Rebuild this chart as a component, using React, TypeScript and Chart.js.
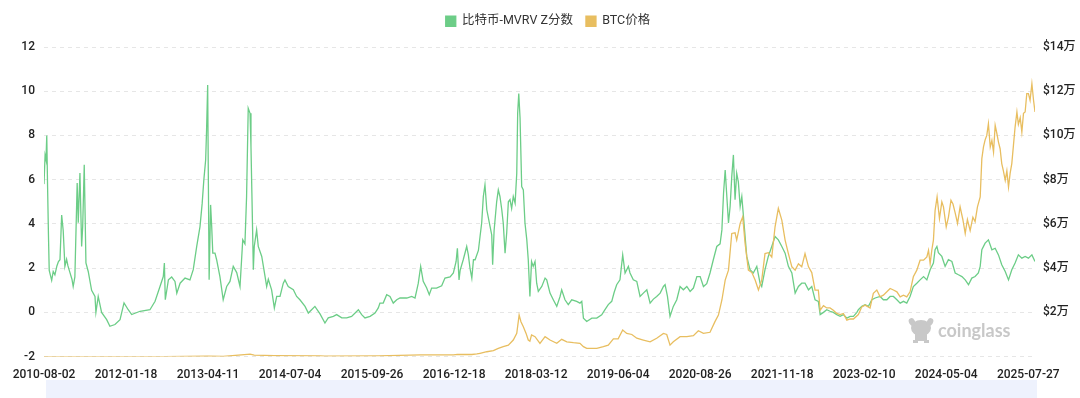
import { useEffect, useRef } from 'react';
import { Chart, registerables } from 'chart.js';

Chart.register(...registerables);

const tickDates = ['2010-08-02', '2012-01-18', '2013-04-11', '2014-07-04', '2015-09-26', '2016-12-18', '2018-03-12', '2019-06-04', '2020-08-26', '2021-11-18', '2023-02-10', '2024-05-04', '2025-07-27'];

const mvrvDates = [
  '2010-08-02','2010-08-09','2010-08-15','2010-08-20','2010-08-25','2010-08-31','2010-09-05','2010-09-21','2010-10-01','2010-10-12','2010-10-25','2010-11-04','2010-11-14','2010-11-25','2010-12-05','2010-12-16','2010-12-27',
  '2011-01-05','2011-01-18','2011-01-31','2011-02-08','2011-02-19','2011-03-06','2011-03-13','2011-03-24','2011-04-04','2011-04-11','2011-04-21','2011-05-02','2011-05-17','2011-06-08','2011-06-30','2011-07-06','2011-07-21','2011-08-12','2011-09-14','2011-10-05','2011-11-07','2011-12-10',
  '2012-01-05','2012-01-30','2012-02-18','2012-04-04','2012-05-28','2012-06-25','2012-07-22','2012-08-09','2012-08-15','2012-08-20','2012-09-06','2012-09-24','2012-10-12','2012-10-22','2012-11-09','2012-12-06',
  '2013-01-02','2013-01-20','2013-02-08','2013-02-26','2013-03-10','2013-03-19','2013-03-29','2013-04-03','2013-04-09','2013-04-12','2013-04-17','2013-04-25','2013-05-01','2013-05-07','2013-05-19','2013-05-28','2013-06-15','2013-07-03','2013-07-22','2013-08-09','2013-08-27','2013-09-15','2013-10-03','2013-10-18','2013-10-30','2013-11-08','2013-11-17','2013-11-27','2013-12-02','2013-12-07','2013-12-11','2013-12-15','2013-12-20',
  '2014-01-02','2014-01-11','2014-01-30','2014-02-17','2014-02-26','2014-03-07','2014-03-25','2014-04-09','2014-04-22','2014-05-10','2014-05-28','2014-06-06','2014-06-24','2014-07-22','2014-08-09','2014-08-27','2014-09-24','2014-10-12','2014-10-30','2014-11-17','2014-12-15',
  '2015-01-11','2015-01-29','2015-02-26','2015-03-16','2015-04-13','2015-05-10','2015-06-06','2015-07-13','2015-07-31','2015-08-18','2015-09-15','2015-10-12','2015-10-30','2015-11-08','2015-11-26','2015-12-15',
  '2016-01-02','2016-01-20','2016-02-08','2016-02-26','2016-04-03','2016-04-30','2016-05-18','2016-05-28','2016-06-05','2016-06-18','2016-07-02','2016-07-21','2016-08-04','2016-08-17','2016-09-13','2016-10-11','2016-10-29','2016-11-26','2016-12-14','2016-12-29',
  '2017-01-05','2017-01-14','2017-01-20','2017-02-06','2017-02-25','2017-03-06','2017-03-15','2017-03-25','2017-04-03','2017-04-12','2017-04-30','2017-05-09','2017-05-18','2017-05-27','2017-06-05','2017-06-15','2017-07-03','2017-07-12','2017-07-17','2017-07-25','2017-08-08','2017-08-17','2017-08-26','2017-09-05','2017-09-13','2017-09-23','2017-10-02','2017-10-11','2017-10-20','2017-10-29','2017-11-07','2017-11-17','2017-11-26','2017-12-01','2017-12-07','2017-12-14','2017-12-23',
  '2018-01-01','2018-01-10','2018-01-20','2018-01-28','2018-02-06','2018-02-15','2018-02-24','2018-03-06','2018-03-15','2018-03-24','2018-04-12','2018-04-30','2018-05-09','2018-05-18','2018-05-27','2018-06-14','2018-07-03','2018-07-21','2018-07-30','2018-08-17','2018-09-04','2018-09-23','2018-10-20','2018-11-07','2018-11-17','2018-11-26','2018-12-14',
  '2019-01-11','2019-02-07','2019-03-06','2019-03-24','2019-04-11','2019-04-30','2019-05-13','2019-05-27','2019-06-14','2019-06-29','2019-07-12','2019-07-30','2019-08-08','2019-08-26','2019-09-14','2019-10-02','2019-10-20','2019-11-08','2019-11-26','2019-12-14',
  '2020-01-01','2020-01-20','2020-02-07','2020-02-16','2020-02-29','2020-03-14','2020-04-01','2020-04-20','2020-05-08','2020-05-26','2020-06-14','2020-07-02','2020-07-20','2020-08-08','2020-08-26','2020-09-13','2020-10-01','2020-10-19','2020-11-06','2020-11-25','2020-12-13','2020-12-23',
  '2021-01-01','2021-01-10','2021-01-19','2021-01-28','2021-02-06','2021-02-15','2021-02-24','2021-03-05','2021-03-14','2021-03-23','2021-04-02','2021-04-11','2021-04-20','2021-04-29','2021-05-08','2021-05-26','2021-06-13','2021-07-02','2021-07-20','2021-07-29','2021-08-16','2021-09-03','2021-09-22','2021-10-10','2021-10-28','2021-11-16','2021-12-04','2021-12-22',
  '2022-01-10','2022-01-28','2022-02-15','2022-03-05','2022-03-23','2022-04-11','2022-04-29','2022-05-17','2022-06-04','2022-06-14','2022-07-02','2022-07-20','2022-08-07','2022-08-25','2022-09-13','2022-10-01','2022-10-19','2022-11-07','2022-11-25','2022-12-13',
  '2023-01-01','2023-01-09','2023-01-28','2023-02-15','2023-03-05','2023-03-24','2023-04-11','2023-05-08','2023-05-26','2023-06-14','2023-07-02','2023-07-20','2023-08-08','2023-08-26','2023-09-13','2023-10-01','2023-10-19','2023-11-06','2023-11-25','2023-12-13',
  '2024-01-01','2024-01-19','2024-02-06','2024-02-24','2024-03-04','2024-03-14','2024-03-22','2024-04-10','2024-04-28','2024-05-16','2024-06-04','2024-06-22','2024-07-10','2024-07-29','2024-08-16','2024-09-03','2024-09-21','2024-10-09','2024-10-27','2024-11-06','2024-11-15','2024-12-03','2024-12-21',
  '2025-01-09','2025-01-27','2025-02-14','2025-03-04','2025-03-23','2025-04-10','2025-04-28','2025-05-16','2025-06-03','2025-06-22','2025-07-10','2025-07-28','2025-08-16','2025-09-02',
];

const mvrvValues = [
  5.8,7.1,6.9,8.0,5.8,3.5,1.9,1.45,1.85,1.7,2.1,2.3,2.38,4.4,3.7,2.08,2.4,
  2.1,1.8,1.5,1.17,1.6,5.85,4.05,6.3,2.98,3.9,6.67,2.24,1.85,1.0,0.72,0.0,0.72,0.0,-0.33,-0.63,-0.55,-0.33,
  0.43,0.12,-0.1,0.05,0.12,0.5,1.17,1.62,2.23,0.57,1.47,1.6,1.4,0.87,1.32,1.55,
  1.47,1.93,2.98,3.88,4.94,5.99,6.9,8.25,10.28,6.75,1.48,4.86,3.88,2.68,2.68,2.38,1.62,0.57,1.17,1.4,2.08,1.8,1.17,3.28,3.1,5.24,9.23,9.0,7.5,5.4,3.7,1.93,2.98,
  3.73,2.98,2.53,1.63,1.17,1.5,1.02,0.2,0.72,0.72,1.32,1.47,1.17,1.02,0.72,0.57,0.27,-0.03,0.12,0.27,-0.07,
  -0.48,-0.25,-0.18,-0.1,-0.25,-0.25,-0.18,0.12,-0.1,-0.25,-0.18,-0.03,0.2,0.42,0.42,0.8,
  0.72,0.42,0.57,0.65,0.65,0.72,0.65,1.02,1.32,2.08,1.4,1.1,0.8,1.1,1.1,1.2,1.55,1.6,1.78,2.3,
  2.9,1.47,1.9,2.38,2.98,2.6,2.0,1.55,2.38,2.38,2.8,3.43,4.04,5.24,5.77,4.64,3.88,3.5,2.15,3.7,5.0,5.54,5.24,4.64,4.04,2.68,3.6,5.0,5.1,4.7,5.24,4.94,6.29,9.0,9.9,8.8,5.69,
  5.54,4.04,3.28,2.38,0.72,2.3,2.08,2.3,1.32,0.95,1.17,1.55,1.47,1.17,0.87,0.57,0.27,0.72,1.02,0.57,0.35,0.57,0.5,0.42,0.5,-0.26,-0.41,
  -0.26,-0.26,-0.11,0.12,0.35,0.5,0.9,1.25,1.47,2.6,1.78,2.08,1.78,1.47,1.4,0.72,0.87,1.02,0.42,0.6,
  0.72,0.87,1.17,1.25,0.72,-0.18,0.27,0.57,1.17,1.02,1.17,0.95,1.1,1.62,1.62,1.17,1.3,1.78,2.38,2.98,3.1,3.73,
  5.39,6.44,5.24,4.04,4.79,6.14,7.12,5.09,6.29,5.9,4.79,5.24,4.34,3.43,2.53,1.93,1.78,2.08,1.32,1.17,1.93,2.53,2.98,3.43,3.28,2.98,2.68,2.08,
  1.78,0.87,1.17,1.32,1.32,1.02,1.17,0.57,0.5,-0.1,0.0,0.12,0.05,0.0,-0.1,-0.18,-0.1,-0.26,-0.18,-0.18,
  0.0,0.12,0.27,0.35,0.27,0.57,0.65,0.72,0.57,0.57,0.72,0.72,0.57,0.42,0.5,0.42,0.72,1.17,1.32,1.47,
  1.62,1.47,1.93,2.23,2.83,2.98,2.7,2.53,2.08,2.38,2.3,1.78,1.7,1.62,1.47,1.25,1.55,1.62,1.78,2.08,2.83,3.13,3.28,
  2.83,2.9,2.6,2.15,1.85,1.47,1.93,2.23,2.6,2.45,2.53,2.45,2.6,2.3,
];

const priceDates = [
  '2010-08-02','2011-04-21','2011-10-05','2012-08-15','2013-04-09','2013-07-03','2013-11-27','2013-12-20','2014-04-09','2014-12-15','2015-01-11','2015-10-30','2016-06-18','2016-12-14',
  '2017-01-05','2017-03-25','2017-04-22','2017-05-09','2017-06-15','2017-07-21','2017-08-17','2017-09-13','2017-10-11','2017-11-07','2017-11-26','2017-12-09','2017-12-19',
  '2018-01-01','2018-01-16','2018-01-28','2018-02-06','2018-02-15','2018-03-06','2018-04-02','2018-04-30','2018-05-27','2018-07-03','2018-07-30','2018-08-27','2018-10-02','2018-11-07','2018-11-26','2018-12-14',
  '2019-02-07','2019-03-15','2019-04-11','2019-05-09','2019-06-04','2019-06-29','2019-07-21','2019-08-18','2019-09-14','2019-10-20','2019-11-26',
  '2020-01-01','2020-02-07','2020-02-25','2020-03-14','2020-04-01','2020-05-08','2020-06-14','2020-07-20','2020-08-16','2020-09-13','2020-10-19','2020-11-15','2020-12-04','2020-12-23',
  '2021-01-10','2021-01-28','2021-02-15','2021-03-05','2021-03-14','2021-04-02','2021-04-16','2021-04-29','2021-05-17','2021-06-05','2021-06-23','2021-07-11','2021-07-29','2021-08-16','2021-09-03','2021-09-22','2021-10-10','2021-10-28','2021-11-16','2021-12-04','2021-12-22',
  '2022-01-10','2022-01-28','2022-02-15','2022-03-05','2022-03-23','2022-04-11','2022-04-29','2022-05-17','2022-06-04','2022-06-14','2022-07-02','2022-07-20','2022-08-07','2022-08-25','2022-09-13','2022-10-01','2022-10-19','2022-11-07','2022-11-25','2022-12-13',
  '2023-01-09','2023-01-28','2023-02-15','2023-03-14','2023-04-01','2023-04-20','2023-05-08','2023-05-26','2023-06-14','2023-07-02','2023-07-20','2023-08-08','2023-08-26','2023-09-13','2023-10-01','2023-10-19','2023-11-06','2023-11-25','2023-12-13',
  '2024-01-01','2024-01-19','2024-01-28','2024-02-06','2024-02-15','2024-02-24','2024-03-04','2024-03-15','2024-03-28','2024-04-10','2024-04-19','2024-05-04','2024-05-16','2024-05-30','2024-06-10','2024-06-22','2024-07-05','2024-07-19','2024-08-03','2024-08-16','2024-08-28','2024-09-12','2024-09-27','2024-10-09','2024-10-22','2024-11-06','2024-11-15','2024-11-24','2024-12-03','2024-12-12','2024-12-21','2024-12-31',
  '2025-01-09','2025-01-18','2025-01-27','2025-02-05','2025-02-14','2025-02-23','2025-03-04','2025-03-13','2025-03-23','2025-04-01','2025-04-10','2025-04-19','2025-04-28','2025-05-07','2025-05-16','2025-05-26','2025-06-03','2025-06-13','2025-06-22','2025-07-01','2025-07-10','2025-07-19','2025-07-28','2025-08-06','2025-08-16','2025-08-25','2025-09-02',
];

const priceValues = [
  0.07,15,3,12,230,80,1100,650,450,350,210,320,750,780,
  1000,950,1200,1500,2200,2700,3700,4500,5200,7500,10500,18800,15800,
  13500,10500,7500,7000,9800,9000,6000,9000,7500,6000,7800,6700,6300,6000,4500,3700,
  3700,4500,5200,8000,8000,12000,10500,10000,8300,7500,6700,
  8300,10500,10000,5200,6700,9000,9000,9500,11700,10500,11000,15800,18800,25600,
  34600,39100,55700,56000,52700,60200,63200,51200,39100,38000,34600,30100,34600,46600,47000,45000,58700,67000,61700,52700,46600,
  40600,39100,42000,40600,46600,40600,38000,30100,30100,21000,23000,22000,22000,21000,19500,19000,19500,16500,17000,17000,
  19000,22500,23300,22000,28600,30100,27000,27800,29300,30800,30100,29300,27000,27800,27000,29300,36100,39100,43600,
  43600,45100,48100,42000,48100,52700,66000,72200,62400,70000,67700,58700,63000,70700,69000,65000,60200,67700,62000,55700,62000,57000,63000,61000,67700,72200,89500,94800,98000,100000,105300,94800,
  97800,92500,104600,101000,97000,94000,87300,84000,79700,84000,76700,83000,87300,95500,103800,110600,105000,108000,101500,110000,110600,118900,118900,115900,123400,115900,110600,
];

const GREEN = '#6ccd87';
const GOLD = '#e8be60';
const FONT = "Roboto, 'Noto Sans CJK SC', sans-serif";

function dayNum(s: string) {
  const [y, m, d] = s.split('-').map(Number);
  return Date.UTC(y, m - 1, d) / 86400000;
}
const tickDays = tickDates.map(dayNum);
function toPos(s: string) {
  const t = dayNum(s);
  const n = tickDays.length;
  for (let k = 0; k < n - 1; k++) {
    if (t <= tickDays[k + 1]) return k + (t - tickDays[k]) / (tickDays[k + 1] - tickDays[k]);
  }
  return n - 1 + (t - tickDays[n - 1]) / (tickDays[n - 1] - tickDays[n - 2]);
}

const legendSpacer = {
  id: 'legendSpacer',
  beforeLayout(chart: any) {
    const lg = chart.legend;
    if (lg && !lg.__patched) {
      const orig = lg.fit.bind(lg);
      lg.fit = function () {
        orig();
        this.height += 9.5;
      };
      lg.__patched = true;
    }
  },
  afterLayout(chart: any) {
    const lg = chart.legend;
    if (lg) {
      lg.left += 8;
      lg.right += 8;
    }
  },
};

const decor = {
  id: 'decor',
  beforeDatasetsDraw(chart: any) {
    const ctx = chart.ctx;
    ctx.save();
    ctx.fillStyle = '#c8c8c8';
    ctx.beginPath();
    ctx.ellipse(921, 328, 10, 8, 0, 0, Math.PI * 2);
    ctx.fill();
    ctx.beginPath();
    ctx.ellipse(912, 322, 3, 4, -0.5, 0, Math.PI * 2);
    ctx.ellipse(930, 322, 3, 4, 0.5, 0, Math.PI * 2);
    ctx.fill();
    ctx.fillRect(915, 333, 12, 8);
    ctx.fillRect(913, 340, 5, 3);
    ctx.fillRect(924, 340, 5, 3);
    ctx.font = "bold 18px Lato, 'Noto Sans', sans-serif";
    ctx.textBaseline = 'alphabetic';
    ctx.textAlign = 'left';
    ctx.fillText('coinglass', 938, 337);
    ctx.restore();
  },
  afterDraw(chart: any) {
    const ctx = chart.ctx;
    ctx.save();
    ctx.fillStyle = '#eef2fd';
    ctx.fillRect(46, 380, 991, 18);
    ctx.restore();
  },
};

export default function App() {
  const ref = useRef<HTMLCanvasElement | null>(null);
  useEffect(() => {
    if (!ref.current) return;
    Chart.defaults.font.family = FONT;
    Chart.defaults.font.size = 12;
    Chart.defaults.color = '#222';
    const tickFont = { size: 12, family: FONT, weight: '500' as any };
    const lastPos = toPos(priceDates[priceDates.length - 1]);
    const chart = new Chart(ref.current, {
      type: 'line',
      data: {
        datasets: [
          {
            label: '比特币-MVRV Z分数',
            data: mvrvDates.map((d, i) => ({ x: toPos(d), y: mvrvValues[i] })),
            yAxisID: 'y',
            borderColor: GREEN,
            backgroundColor: GREEN,
            borderWidth: 1.3,
            pointRadius: 0,
            tension: 0,
            order: 1,
          },
          {
            label: 'BTC价格',
            data: priceDates.map((d, i) => ({ x: toPos(d), y: priceValues[i] })),
            yAxisID: 'y1',
            borderColor: GOLD,
            backgroundColor: GOLD,
            borderWidth: 1.3,
            pointRadius: 0,
            tension: 0,
            order: 0,
          },
        ],
      },
      options: {
        responsive: false,
        animation: false,
        events: [],
        layout: { padding: { top: 2, left: 0, right: 0, bottom: 0 } },
        plugins: {
          legend: {
            position: 'top',
            labels: {
              boxWidth: 10,
              boxHeight: 10,
              padding: 13,
              color: '#333',
              font: { size: 12.5, family: FONT },
              sort: (a: any, b: any) => a.datasetIndex - b.datasetIndex,
            },
          },
          tooltip: { enabled: false },
        },
        scales: {
          x: {
            type: 'linear',
            min: 0,
            max: lastPos,
            afterBuildTicks: (s: any) => {
              s.ticks = tickDates.map((_, i) => ({ value: i }));
            },
            afterFit: (s: any) => {
              s.height = 41.4;
            },
            ticks: {
              callback: (v: any) => tickDates[v] ?? '',
              autoSkip: false,
              maxRotation: 0,
              padding: 3,
              color: '#222',
              font: tickFont,
            },
            grid: { display: false },
            border: { display: false },
          },
          y: {
            position: 'left',
            min: -2,
            max: 12,
            afterFit: (s: any) => {
              s.width = 44;
            },
            ticks: { stepSize: 2, padding: 9, color: '#222', font: tickFont },
            grid: { color: '#e6e6e6', drawTicks: false, lineWidth: 1 },
            border: { display: false, dash: [4, 4] },
          },
          y1: {
            position: 'right',
            min: 0,
            max: 140000,
            afterFit: (s: any) => {
              s.width = 45;
            },
            ticks: {
              stepSize: 20000,
              padding: 8,
              color: '#222',
              font: tickFont,
              callback: (v: any) => (v === 0 ? '' : `$${v / 10000}万`),
            },
            grid: { drawOnChartArea: false, drawTicks: false },
            border: { display: false },
          },
        },
      },
      plugins: [legendSpacer, decor],
    });
    return () => chart.destroy();
  }, []);
  return (
    <div style={{ position: 'fixed', left: 0, top: 0, width: 1080, height: 398, background: '#fff' }}>
      <canvas ref={ref} width={1080} height={398} style={{ display: 'block' }} />
    </div>
  );
}
